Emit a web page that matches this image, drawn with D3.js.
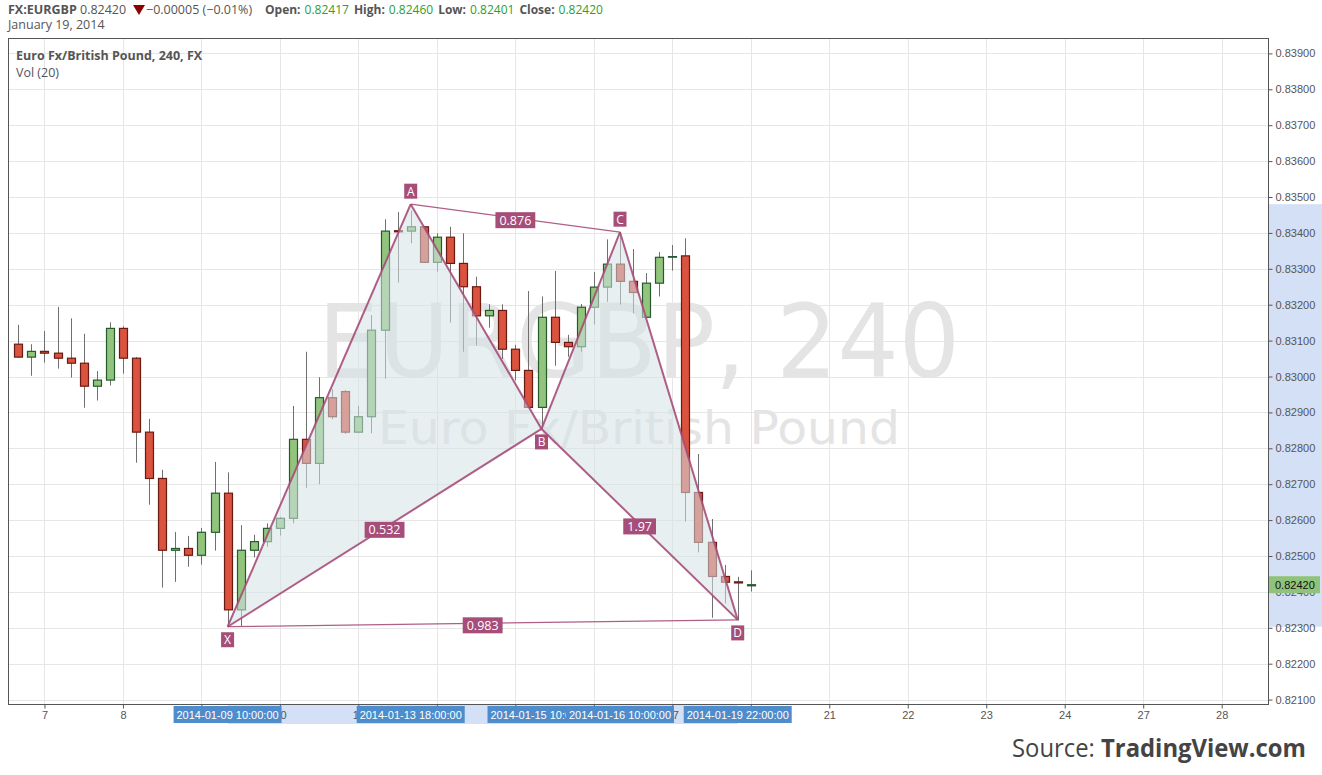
<!DOCTYPE html>
<html><head><meta charset="utf-8">
<script src="https://cdn.jsdelivr.net/npm/d3@7"></script>
<style>body{margin:0;background:#fff;} svg{display:block;}</style>
</head><body><svg id="c" width="1322" height="775"></svg>
<script>
// ---------- DATA ----------
const barOpen  = [0.83090,0.83054,0.83070,0.83065,0.83051,0.83037,0.82973,0.82990,0.83134,0.83051,0.82845,0.82716,0.82516,0.82521,0.82502,0.82566,0.82675,0.82350,0.82516,0.82540,0.82577,0.82605,0.82825,0.82758,0.82941,0.82958,0.82845,0.82888,0.83129,0.83406,0.83405,0.83417,0.83318,0.83388,0.83315,0.83250,0.83169,0.83184,0.83076,0.83017,0.82914,0.83165,0.83095,0.83083,0.83193,0.83249,0.83313,0.83265,0.83165,0.83260,0.83333,0.83336,0.82677,0.82538,0.82443,0.82428,0.82417];
const barHigh  = [0.83144,0.83090,0.83127,0.83194,0.83162,0.83119,0.83015,0.83151,0.83140,0.83054,0.82882,0.82740,0.82567,0.82556,0.82578,0.82762,0.82733,0.82586,0.82559,0.82591,0.82609,0.82918,0.83069,0.82998,0.82965,0.82962,0.82918,0.83171,0.83438,0.83458,0.83462,0.83419,0.83399,0.83417,0.83399,0.83278,0.83201,0.83201,0.83088,0.83238,0.83223,0.83294,0.83116,0.83202,0.83291,0.83382,0.83403,0.83355,0.83288,0.83347,0.83366,0.83385,0.82784,0.82603,0.82475,0.82442,0.82460];
const barLow   = [0.83052,0.83002,0.83039,0.83022,0.82997,0.82913,0.82933,0.82975,0.83008,0.82760,0.82643,0.82412,0.82428,0.82470,0.82476,0.82515,0.82303,0.82305,0.82496,0.82526,0.82557,0.82591,0.82690,0.82700,0.82881,0.82840,0.82843,0.82842,0.82994,0.83262,0.83371,0.83316,0.83292,0.83150,0.83069,0.83086,0.83136,0.83049,0.82989,0.82912,0.82853,0.83030,0.83055,0.83069,0.83145,0.83208,0.83200,0.83176,0.83165,0.83223,0.83295,0.82596,0.82510,0.82328,0.82368,0.82320,0.82401];
const barClose = [0.83054,0.83070,0.83065,0.83051,0.83037,0.82973,0.82990,0.83134,0.83051,0.82845,0.82716,0.82516,0.82521,0.82502,0.82566,0.82675,0.82350,0.82516,0.82540,0.82577,0.82605,0.82825,0.82758,0.82941,0.82888,0.82845,0.82888,0.83129,0.83405,0.83403,0.83417,0.83318,0.83388,0.83315,0.83250,0.83169,0.83184,0.83076,0.83017,0.82914,0.83165,0.83095,0.83083,0.83193,0.83249,0.83313,0.83265,0.83234,0.83260,0.83332,0.83334,0.82677,0.82538,0.82443,0.82427,0.82425,0.82420];

const dayLabels   = ["7","8","9","10","13","14","15","16","17","20","21","22","23","24","27","28"];
const dayBarIndex = [2,8,14,20,26,32,38,44,50,56,62,68,74,80,86,92];
const priceTicks  = [0.821,0.822,0.823,0.824,0.825,0.826,0.827,0.828,0.829,0.830,0.831,0.832,0.833,0.834,0.835,0.836,0.837,0.838,0.839];

const patternNames  = ["X","A","B","C","D"];
const patternIndex  = [16,30,40,46,55];
const patternPrice  = [0.82303,0.83480,0.82854,0.83402,0.82322];
const patternDates  = ["2014-01-09 10:00:00","2014-01-13 18:00:00","2014-01-15 10:00:00","2014-01-16 10:00:00","2014-01-19 22:00:00"];
const ratioLabels   = ["0.532","0.876","1.97","0.983"]; // XB, AC, BD, XD
const ratioPairs    = [[0,2],[1,3],[2,4],[0,4]];

const lastPrice = 0.82420;
const headerFields = [["Open:","0.82417"],["High:","0.82460"],["Low:","0.82401"],["Close:","0.82420"]];

// ---------- LAYOUT ----------
const svg = d3.select("#c");
const P = {l:8, r:1268, t:38, b:704};
const x = d3.scaleLinear().domain([0,56]).range([18.3,750.8]);
const y = d3.scaleLinear().domain([0.821,0.839]).range([699.6,53.4]);
const fmt = d3.format(".5f");
const gridC = "#e6e6e6", textC = "#555";
const crisp = v => Math.round(v)+0.5;

// grid
const g = svg.append("g");
g.selectAll("line.h").data(priceTicks).enter().append("line")
  .attr("x1",P.l).attr("x2",P.r).attr("y1",d=>crisp(y(d))).attr("y2",d=>crisp(y(d)))
  .attr("stroke",gridC);
g.selectAll("line.v").data(dayBarIndex).enter().append("line")
  .attr("y1",P.t).attr("y2",P.b).attr("x1",d=>crisp(x(d))).attr("x2",d=>crisp(x(d)))
  .attr("stroke",gridC);

// watermark
svg.append("text").text("EURGBP, 240").attr("x",639).attr("y",377)
  .attr("text-anchor","middle").attr("font-family","DejaVu Sans").attr("font-size",101)
  .attr("textLength",642).attr("lengthAdjust","spacingAndGlyphs").attr("fill","#e4e4e4");
svg.append("text").text("Euro Fx/British Pound").attr("x",639).attr("y",444)
  .attr("text-anchor","middle").attr("font-family","DejaVu Sans").attr("font-size",47)
  .attr("textLength",522).attr("lengthAdjust","spacingAndGlyphs").attr("fill","#e4e4e4");

// candles
const idx = d3.range(barOpen.length);
const cg = svg.append("g");
cg.selectAll("line.w").data(idx).enter().append("line")
  .attr("x1",i=>crisp(x(i))).attr("x2",i=>crisp(x(i)))
  .attr("y1",i=>y(barHigh[i])).attr("y2",i=>y(barLow[i]))
  .attr("stroke","#6f6f6f").attr("stroke-width",1);
cg.selectAll("rect.b").data(idx).enter().append("rect")
  .attr("x",i=>Math.round(x(i))-3.5).attr("width",8)
  .attr("y",i=>y(Math.max(barOpen[i],barClose[i])))
  .attr("height",i=>Math.max(0.6,Math.abs(y(barOpen[i])-y(barClose[i]))))
  .attr("fill",i=>barClose[i]>=barOpen[i]?"#93c47d":"#d9533f")
  .attr("stroke",i=>barClose[i]>=barOpen[i]?"#245a2e":"#6b1a12")
  .attr("stroke-width",1.2);

// pattern
const pt = i => [x(patternIndex[i]), y(patternPrice[i])];
const pc = "#a64d79";
svg.append("polygon").attr("points",[pt(0),pt(1),pt(2)].map(p=>p.join(",")).join(" "))
  .attr("fill","rgb(211,226,229)").attr("fill-opacity",0.55);
svg.append("polygon").attr("points",[pt(2),pt(3),pt(4)].map(p=>p.join(",")).join(" "))
  .attr("fill","rgb(211,226,229)").attr("fill-opacity",0.55);
const thick = [[0,1],[1,2],[2,3],[3,4],[0,2],[2,4]];
svg.selectAll("line.pt").data(thick).enter().append("line")
  .attr("x1",d=>pt(d[0])[0]).attr("y1",d=>pt(d[0])[1])
  .attr("x2",d=>pt(d[1])[0]).attr("y2",d=>pt(d[1])[1])
  .attr("stroke",pc).attr("stroke-width",2).attr("stroke-opacity",0.9);
svg.selectAll("line.pn").data([[1,3],[0,4]]).enter().append("line")
  .attr("x1",d=>pt(d[0])[0]).attr("y1",d=>pt(d[0])[1])
  .attr("x2",d=>pt(d[1])[0]).attr("y2",d=>pt(d[1])[1])
  .attr("stroke",pc).attr("stroke-width",1.2).attr("stroke-opacity",0.9);

// ratio labels
ratioPairs.forEach((pr,k)=>{
  const a=pt(pr[0]), b=pt(pr[1]);
  const cx=(a[0]+b[0])/2, cy=(a[1]+b[1])/2+2;
  const t = svg.append("text").text(ratioLabels[k]).attr("x",cx).attr("y",cy+4.5)
    .attr("text-anchor","middle").attr("font-family","Open Sans").attr("font-size",12.5).attr("fill","#fff");
  const w = t.node().getComputedTextLength()+8;
  svg.insert("rect",()=>t.node()).attr("x",cx-w/2).attr("y",cy-8).attr("width",w).attr("height",16).attr("fill",pc);
});
// point labels
const labOff = [13,-13,13,-13,13];
patternNames.forEach((n,k)=>{
  const p=pt(k); const cy=p[1]+labOff[k];
  svg.append("rect").attr("x",p[0]-6.5).attr("y",cy-7.5).attr("width",13).attr("height",15).attr("fill",pc);
  svg.append("text").text(n).attr("x",p[0]).attr("y",cy+4.5).attr("text-anchor","middle")
    .attr("font-family","Open Sans").attr("font-size",12).attr("fill","#fff");
});

// right axis band
svg.append("rect").attr("x",P.r+1).attr("width",1322-P.r-1)
  .attr("y",y(patternPrice[1])).attr("height",y(patternPrice[0])-y(patternPrice[1])).attr("fill","#d3e0f5");
// bottom axis band
svg.append("rect").attr("x",x(patternIndex[0])).attr("width",x(patternIndex[4])-x(patternIndex[0]))
  .attr("y",P.b+1).attr("height",19).attr("fill","#d3e0f5");

// axes
const ra = svg.append("g").attr("transform",`translate(${P.r+0.5},0)`)
  .call(d3.axisRight(y).tickValues(priceTicks).tickFormat(fmt).tickSize(4).tickPadding(3));
const ba = svg.append("g").attr("transform",`translate(0,${P.b+0.5})`)
  .call(d3.axisBottom(x).tickValues(dayBarIndex).tickFormat((d,i)=>dayLabels[i]).tickSize(4).tickPadding(3));
[ra,ba].forEach(a=>{
  a.selectAll("text").attr("font-family","Liberation Sans, Arial").attr("font-size",11).attr("fill",textC);
  a.selectAll("line").attr("stroke","#555");
  a.select(".domain").remove();
});
// frame
svg.append("rect").attr("x",P.l+0.5).attr("y",P.t+0.5).attr("width",P.r-P.l).attr("height",P.b-P.t)
  .attr("fill","none").attr("stroke","#555");

// last price marker
const ly = y(lastPrice);
svg.append("rect").attr("x",P.r+1).attr("y",ly-8.5).attr("width",51).attr("height",17).attr("fill","#8fc27a");
svg.append("text").text(fmt(lastPrice)).attr("x",P.r+7).attr("y",ly+4)
  .attr("font-family","Liberation Sans, Arial").attr("font-size",11).attr("fill","#111");

// date boxes
patternDates.forEach((d,k)=>{
  const cx = x(patternIndex[k]);
  svg.append("rect").attr("x",cx-54).attr("y",P.b+2).attr("width",108).attr("height",17).attr("fill","#4e8ccb");
  svg.append("text").text(d).attr("x",cx).attr("y",P.b+15).attr("text-anchor","middle")
    .attr("font-family","Liberation Sans, Arial").attr("font-size",11).attr("fill","#fff");
});

// header
const hf = "Open Sans";
function htext(t,xx,bold,col,fs){
  return svg.append("text").text(t).attr("x",xx).attr("y",14).attr("font-family",hf)
    .attr("font-size",fs||12.5).attr("font-weight",bold?"bold":"normal").attr("fill",col);
}
htext("FX:EURGBP",8,true,textC);
htext(fmt(lastPrice),80,false,textC);
svg.append("path").attr("d","M133,5 L145,5 L139,15 Z").attr("fill","#8b0000");
htext("\u22120.00005 (\u22120.01%)",146,false,textC);
let hx = 265;
headerFields.forEach(f=>{
  const l = htext(f[0],hx,true,textC,12);
  hx += l.node().getComputedTextLength()+4;
  const v = htext(f[1],hx,false,"#2ca02c",12);
  hx += v.node().getComputedTextLength()+5;
});
svg.append("text").text("January 19, 2014").attr("x",8).attr("y",29).attr("font-family",hf)
  .attr("font-size",12.5).attr("fill",textC);
svg.append("text").text("Euro Fx/British Pound, 240, FX").attr("x",16).attr("y",60).attr("font-family",hf)
  .attr("font-size",12.5).attr("font-weight","bold").attr("fill",textC);
svg.append("text").text("Vol (20)").attr("x",16).attr("y",77).attr("font-family",hf)
  .attr("font-size",12.5).attr("fill",textC);

// source
const src = svg.append("text").attr("x",1012).attr("y",757).attr("font-family",hf).attr("font-size",25)
  .attr("fill","#444").attr("textLength",294).attr("lengthAdjust","spacingAndGlyphs");
src.append("tspan").text("Source: ");
src.append("tspan").text("TradingView.com").attr("font-weight","bold");
</script>
</body></html>
